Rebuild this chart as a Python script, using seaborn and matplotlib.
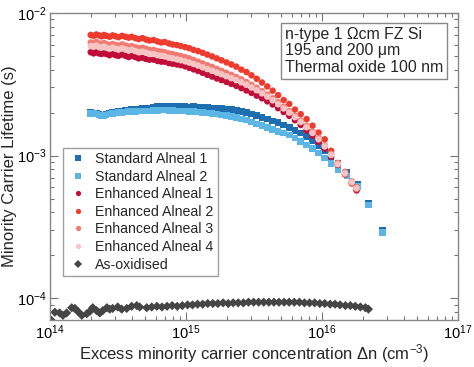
import numpy as np
import pandas as pd
import seaborn as sns
import matplotlib
matplotlib.use('Agg')
import matplotlib.pyplot as plt
from matplotlib.ticker import LogLocator, NullFormatter

# excess carrier density, units of 1e14 cm^-3
dn_enh = [2.0, 2.1, 2.2, 2.3, 2.4, 2.5, 2.6, 2.75, 2.9, 3.05, 3.2, 3.4, 3.6, 3.8, 4.0, 4.25, 4.5, 4.8, 5.1, 5.4,
          5.8, 6.2, 6.6, 7.0, 7.5, 8.0, 8.6, 9.2, 9.9, 10.6, 11.4, 12.3, 13.3, 14.4, 15.6, 16.9, 18.3, 19.9, 21.6, 23.5,
          25.6, 27.9, 30.4, 33.2, 36.3, 39.7, 43.5, 47.7, 52.4, 57.6, 63.4, 69.9, 77.2, 85.4, 94.6, 105, 117, 131, 148, 166,
          180]
dn_std = dn_enh[:-3] + [153, 183, 220, 280]
dn_ox = [1.03, 1.09, 1.18, 1.25, 1.33, 1.45, 1.53, 1.61, 1.72, 1.87, 1.97, 2.07, 2.21, 2.33, 2.45, 2.63, 2.76, 2.9,
         3.16, 3.38, 3.68, 4.0, 4.36, 4.58, 5.16, 5.62, 6.13, 6.68, 7.28, 7.94, 8.65, 9.43, 10.3, 11.2, 12.2, 13.3,
         14.5, 15.8, 17.2, 18.8, 20.5, 22.3, 24.3, 26.5, 28.9, 31.5, 34.3, 37.4, 40.8, 44.4, 48.4, 52.8, 57.5, 62.7,
         68.4, 74.5, 81.2, 88.5, 96.5, 105, 115, 125, 136, 149, 162, 176, 192, 209, 220]

# lifetimes, units of ms
tau_std1 = [2.0, 1.99, 1.97, 1.95, 1.93, 1.92, 1.95, 1.98, 2.0, 2.02, 2.04, 2.05, 2.07, 2.08, 2.1, 2.1, 2.12, 2.13,
            2.15, 2.16, 2.17, 2.2, 2.21, 2.22, 2.2, 2.21, 2.2, 2.21, 2.2, 2.19, 2.2, 2.18, 2.17, 2.17, 2.15, 2.14,
            2.13, 2.12, 2.1, 2.07, 2.04, 2.0, 1.96, 1.91, 1.85, 1.8, 1.75, 1.7, 1.64, 1.57, 1.5, 1.44, 1.36, 1.27,
            1.18, 1.08, 0.98, 0.88, 0.76, 0.63, 0.46, 0.3]
tau_std2 = [1.98, 1.97, 1.95, 1.93, 1.91, 1.9, 1.92, 1.95, 1.97, 1.99, 2.0, 2.01, 2.02, 2.03, 2.04, 2.04, 2.05, 2.05,
            2.06, 2.06, 2.07, 2.07, 2.08, 2.08, 2.07, 2.07, 2.06, 2.06, 2.05, 2.04, 2.03, 2.02, 2.0, 1.99, 1.97, 1.95,
            1.93, 1.91, 1.88, 1.85, 1.81, 1.77, 1.72, 1.67, 1.62, 1.57, 1.52, 1.48, 1.44, 1.39, 1.33, 1.26, 1.19, 1.12,
            1.04, 0.96, 0.88, 0.8, 0.72, 0.61, 0.45, 0.29]
tau_enh1 = [5.3, 5.2, 5.3, 5.2, 5.15, 5.25, 5.15, 5.05, 5.15, 5.05, 5.0, 5.1, 5.0, 4.9, 5.0, 4.9, 4.8, 4.85, 4.75, 4.7,
            4.7, 4.6, 4.55, 4.55, 4.45, 4.4, 4.35, 4.3, 4.22, 4.12, 4.02, 3.92, 3.8, 3.68, 3.58, 3.47, 3.38, 3.28, 3.18,
            3.08, 2.97, 2.86, 2.75, 2.63, 2.52, 2.4, 2.28, 2.15, 2.02, 1.9, 1.77, 1.64, 1.5, 1.38, 1.25, 1.12, 0.98, 0.86,
            0.74, 0.64, 0.57]
tau_enh2 = [7.0, 6.9, 7.05, 6.95, 6.85, 7.0, 6.9, 6.8, 6.95, 6.85, 6.75, 6.9, 6.8, 6.7, 6.8, 6.65, 6.55, 6.65, 6.5,
            6.4, 6.45, 6.3, 6.2, 6.25, 6.1, 6.0, 5.95, 5.85, 5.75, 5.65, 5.5, 5.4, 5.25, 5.1, 4.95, 4.8, 4.65, 4.5, 4.35,
            4.2, 4.0, 3.85, 3.65, 3.45, 3.25, 3.05, 2.85, 2.65, 2.45, 2.3, 2.1, 1.95, 1.8, 1.62, 1.45, 1.3, 1.08, 0.88,
            0.74, 0.64, 0.58]
tau_enh3 = [6.2, 6.1, 6.25, 6.1, 6.05, 6.15, 6.05, 5.95, 6.05, 5.95, 5.9, 6.0, 5.9, 5.8, 5.85, 5.75, 5.65, 5.7, 5.6,
            5.5, 5.5, 5.4, 5.35, 5.3, 5.2, 5.15, 5.05, 4.98, 4.9, 4.8, 4.68, 4.55, 4.42, 4.3, 4.18, 4.05, 3.92, 3.8, 3.68,
            3.55, 3.42, 3.28, 3.13, 2.98, 2.83, 2.68, 2.52, 2.36, 2.2, 2.05, 1.9, 1.76, 1.62, 1.47, 1.33, 1.18, 1.03,
            0.89, 0.77, 0.66, 0.6]
tau_enh4 = [5.85, 5.8, 5.9, 5.75, 5.7, 5.8, 5.7, 5.6, 5.7, 5.6, 5.55, 5.65, 5.55, 5.45, 5.5, 5.4, 5.3, 5.35, 5.25,
            5.15, 5.15, 5.05, 5.0, 4.95, 4.85, 4.8, 4.72, 4.65, 4.57, 4.48, 4.38, 4.27, 4.15, 4.04, 3.93, 3.82, 3.71, 3.6,
            3.49, 3.38, 3.26, 3.14, 3.0, 2.87, 2.73, 2.59, 2.44, 2.29, 2.14, 2.0, 1.86, 1.72, 1.58, 1.44, 1.3, 1.16,
            1.01, 0.87, 0.75, 0.65, 0.59]
# as-oxidised, units of 1e-5 s
tau_ox = [7.0, 8.0, 7.9, 7.6, 7.9, 8.6, 8.5, 8.1, 7.6, 7.8, 8.1, 8.6, 8.2, 7.9, 8.2, 8.6, 8.4, 8.5, 8.7, 8.4, 8.5,
          8.8, 8.9, 8.7, 8.6, 8.7, 8.8, 8.7, 8.8, 8.9, 8.8, 8.9, 9.0, 9.0, 9.1, 9.1, 9.2, 9.2, 9.2, 9.3, 9.2, 9.3,
          9.3, 9.3, 9.4, 9.4, 9.4, 9.4, 9.4, 9.4, 9.4, 9.4, 9.4, 9.4, 9.4, 9.3, 9.3, 9.3, 9.2, 9.2, 9.1, 9.1, 9.0,
          8.9, 8.9, 8.8, 8.7, 8.6, 8.4]

names = ['Standard Alneal 1', 'Standard Alneal 2', 'Enhanced Alneal 1', 'Enhanced Alneal 2',
         'Enhanced Alneal 3', 'Enhanced Alneal 4', 'As-oxidised']
colors = ['#1f6eb0', '#5bb6e6', '#c00d3a', '#ee3b2e', '#f27a72', '#f7c4c4', '#454545']
markers = ['s', 's', 'o', 'o', 'o', 'o', 'D']

series = [(dn_std, tau_std1, 1e-3), (dn_std, tau_std2, 1e-3), (dn_enh, tau_enh1, 1e-3), (dn_enh, tau_enh2, 1e-3),
          (dn_enh, tau_enh3, 1e-3), (dn_enh, tau_enh4, 1e-3), (dn_ox, tau_ox, 1e-5)]
frames = []
for name, (x, y, unit) in zip(names, series):
    frames.append(pd.DataFrame({'dn': np.array(x) * 1e14, 'tau': np.array(y) * unit, 'sample': name}))
df = pd.concat(frames, ignore_index=True)

sns.set_style('ticks')
plt.rcParams['font.family'] = ['Liberation Sans', 'DejaVu Sans']
plt.rcParams['mathtext.fontset'] = 'custom'
plt.rcParams['mathtext.rm'] = 'Liberation Sans'
plt.rcParams['mathtext.it'] = 'Liberation Sans:italic'

fig = plt.figure(figsize=(4.74, 3.67), dpi=100)
ax = fig.add_axes([0.105, 0.128, 0.861, 0.837])

sns.scatterplot(data=df, x='dn', y='tau', hue='sample', style='sample', hue_order=names, style_order=names,
                palette=dict(zip(names, colors)), markers=dict(zip(names, markers)),
                s=22, linewidth=0, edgecolor='none', ax=ax, legend=True)

ax.set_xscale('log')
ax.set_yscale('log')
ax.set_xlim(1e14, 1e17)
ax.set_ylim(7.05e-5, 1e-2)
ax.xaxis.set_major_locator(LogLocator(base=10, numticks=10))
ax.xaxis.set_minor_locator(LogLocator(base=10, subs=np.arange(2, 10), numticks=20))
ax.xaxis.set_minor_formatter(NullFormatter())
ax.yaxis.set_minor_formatter(NullFormatter())
ax.tick_params(which='both', direction='in', top=True, right=True, colors='#777777', labelcolor='black',
               labelsize=10.5)
ax.tick_params(which='major', length=6, width=0.8)
ax.tick_params(which='minor', length=3, width=0.8)
ax.tick_params(axis='y', pad=2.5)
ax.tick_params(axis='x', pad=2.5)
for sp in ax.spines.values():
    sp.set_color('#888888')
    sp.set_linewidth(1.0)

ax.set_xlabel('Excess minority carrier concentration \u0394n (cm$^{-3}$)', fontsize=12)
ax.xaxis.set_label_coords(0.5, -0.072)
ax.set_ylabel('Minority Carrier Lifetime (s)', fontsize=12)
ax.yaxis.set_label_coords(-0.08, 0.5)

handles, labels = ax.get_legend_handles_labels()
leg = ax.legend(handles, labels, loc='upper left', bbox_to_anchor=(0.032, 0.56), borderaxespad=0,
                fontsize=10.2, frameon=True, fancybox=False, edgecolor='#888888', handletextpad=0.4,
                labelspacing=0.25, borderpad=0.3, markerscale=0.8, handlelength=1.6)
leg.get_frame().set_linewidth(1.0)

ax.text(0.577, 0.955, 'n-type 1 \u03a9cm FZ Si\n195 and 200 \u03bcm\nThermal oxide 100 nm',
        transform=ax.transAxes, ha='left', va='top', fontsize=11.4, linespacing=1.15,
        bbox=dict(boxstyle='square,pad=0.25', fc='white', ec='#888888', lw=1.0))

fig.savefig('out.png', dpi=100)
